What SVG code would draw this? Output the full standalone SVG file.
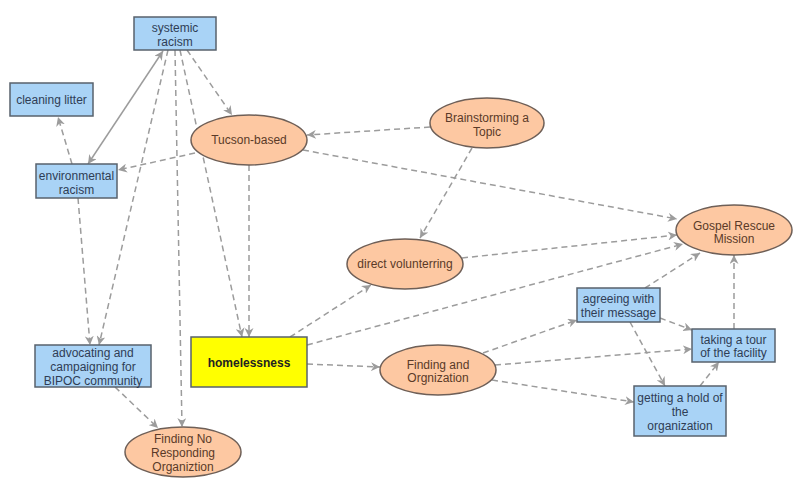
<svg xmlns="http://www.w3.org/2000/svg" width="800" height="486" viewBox="0 0 800 486">
<style>
.box{fill:#a9d3f6;stroke:#58626c;stroke-width:1.5}
.ell{fill:#fdc8a2;stroke:#6e5f57;stroke-width:1.5}
.bt{font-family:"Liberation Sans",Arial,sans-serif;font-size:12px;fill:#2f3d55;text-anchor:middle}
.et{font-family:"Liberation Sans",Arial,sans-serif;font-size:12px;fill:#5a3a28;text-anchor:middle}
.e{fill:none;stroke:#9c9c9c;stroke-width:1.5;stroke-dasharray:6,4}
.s{fill:none;stroke:#9c9c9c;stroke-width:1.5}
</style>
<defs>
<marker id="a" viewBox="0 0 10 10" refX="10" refY="5" markerWidth="9" markerHeight="9" markerUnits="userSpaceOnUse" orient="auto-start-reverse">
<path d="M0,0 L10,5 L0,10 L3,5 z" fill="#9c9c9c"/>
</marker>
</defs>
<rect width="800" height="486" fill="#ffffff"/>
<g id="connectors">
<line class="s" x1="163" y1="51" x2="88" y2="164" marker-start="url(#a)" marker-end="url(#a)"/>
<line class="e" x1="187" y1="50" x2="232" y2="115" marker-end="url(#a)"/>
<line class="e" x1="430" y1="127" x2="307" y2="135" marker-end="url(#a)"/>
<line class="e" x1="195" y1="153" x2="118" y2="170" marker-end="url(#a)"/>
<line class="e" x1="72" y1="164" x2="58" y2="117" marker-end="url(#a)"/>
<line class="e" x1="303" y1="150" x2="677" y2="219" marker-end="url(#a)"/>
<line class="e" x1="472" y1="148" x2="420" y2="238" marker-end="url(#a)"/>
<line class="e" x1="462" y1="258" x2="677" y2="235" marker-end="url(#a)"/>
<line class="e" x1="249" y1="165" x2="249" y2="337" marker-end="url(#a)"/>
<line class="e" x1="180" y1="50" x2="242" y2="337" marker-end="url(#a)"/>
<line class="e" x1="168" y1="50" x2="99" y2="345" marker-end="url(#a)"/>
<line class="e" x1="78" y1="198" x2="90" y2="345" marker-end="url(#a)"/>
<line class="e" x1="175" y1="50" x2="182" y2="427" marker-end="url(#a)"/>
<line class="e" x1="115" y1="387" x2="158" y2="428" marker-end="url(#a)"/>
<line class="e" x1="290" y1="337" x2="371" y2="285" marker-end="url(#a)"/>
<line class="e" x1="307" y1="345" x2="683" y2="244" marker-end="url(#a)"/>
<line class="e" x1="307" y1="364" x2="380" y2="367" marker-end="url(#a)"/>
<line class="e" x1="483" y1="353" x2="577" y2="320" marker-end="url(#a)"/>
<line class="e" x1="495" y1="365" x2="692" y2="349" marker-end="url(#a)"/>
<line class="e" x1="492" y1="380" x2="634" y2="402" marker-end="url(#a)"/>
<line class="e" x1="660" y1="318" x2="692" y2="330" marker-end="url(#a)"/>
<line class="e" x1="630" y1="322" x2="665" y2="386" marker-end="url(#a)"/>
<line class="e" x1="700" y1="386" x2="719" y2="362" marker-end="url(#a)"/>
<line class="e" x1="734" y1="329" x2="734" y2="255" marker-end="url(#a)"/>
<line class="e" x1="645" y1="288" x2="700" y2="253" marker-end="url(#a)"/>
</g>
<g id="systemic-racism"><rect class="box" x="134" y="17" width="82" height="33"/><text class="bt" x="175" y="32">systemic</text><text class="bt" x="175" y="46">racism</text></g>
<g id="cleaning-litter"><rect class="box" x="10" y="83" width="83" height="33"/><text class="bt" x="51.5" y="104">cleaning litter</text></g>
<g id="environmental-racism"><rect class="box" x="36" y="164" width="81" height="34"/><text class="bt" x="76.5" y="180">environmental</text><text class="bt" x="76.5" y="194">racism</text></g>
<g id="tucson-based"><ellipse class="ell" cx="249" cy="140" rx="58" ry="25"/><text class="et" x="249" y="144">Tucson-based</text></g>
<g id="brainstorming"><ellipse class="ell" cx="487" cy="123" rx="57" ry="25"/><text class="et" x="487" y="122">Brainstorming a</text><text class="et" x="487" y="136">Topic</text></g>
<g id="gospel-rescue-mission"><ellipse class="ell" cx="734" cy="230" rx="58" ry="25"/><text class="et" x="734" y="230">Gospel Rescue</text><text class="et" x="734" y="243">Mission</text></g>
<g id="direct-volunteerring"><ellipse class="ell" cx="405" cy="264" rx="58" ry="25"/><text class="et" x="405" y="268">direct volunterring</text></g>
<g id="advocating"><rect class="box" x="35" y="345" width="116" height="42"/><text class="bt" x="93" y="357">advocating and</text><text class="bt" x="93" y="371">campaigning for</text><text class="bt" x="93" y="385">BIPOC community</text></g>
<g id="homelessness"><rect x="191" y="337" width="116" height="50" fill="#ffff00" stroke="#58626c" stroke-width="1.5"/><text x="249" y="367" font-family="Liberation Sans,Arial,sans-serif" font-size="12" font-weight="bold" fill="#222" text-anchor="middle">homelessness</text></g>
<g id="finding-no-responding"><ellipse class="ell" cx="183" cy="452" rx="58" ry="25"/><text class="et" x="183" y="443">Finding No</text><text class="et" x="183" y="457">Responding</text><text class="et" x="183" y="471">Organiztion</text></g>
<g id="finding-and-orgnization"><ellipse class="ell" cx="438" cy="370" rx="58" ry="25"/><text class="et" x="438" y="369">Finding and</text><text class="et" x="438" y="382">Orgnization</text></g>
<g id="agreeing"><rect class="box" x="577" y="288" width="83" height="34"/><text class="bt" x="618.5" y="303">agreeing with</text><text class="bt" x="618.5" y="317">their message</text></g>
<g id="taking-a-tour"><rect class="box" x="692" y="329" width="83" height="33"/><text class="bt" x="733.5" y="344">taking a tour</text><text class="bt" x="733.5" y="357">of the facility</text></g>
<g id="getting-a-hold"><rect class="box" x="634" y="386" width="92" height="50"/><text class="bt" x="680" y="402">getting a hold of</text><text class="bt" x="680" y="416">the</text><text class="bt" x="680" y="430">organization</text></g>
</svg>
